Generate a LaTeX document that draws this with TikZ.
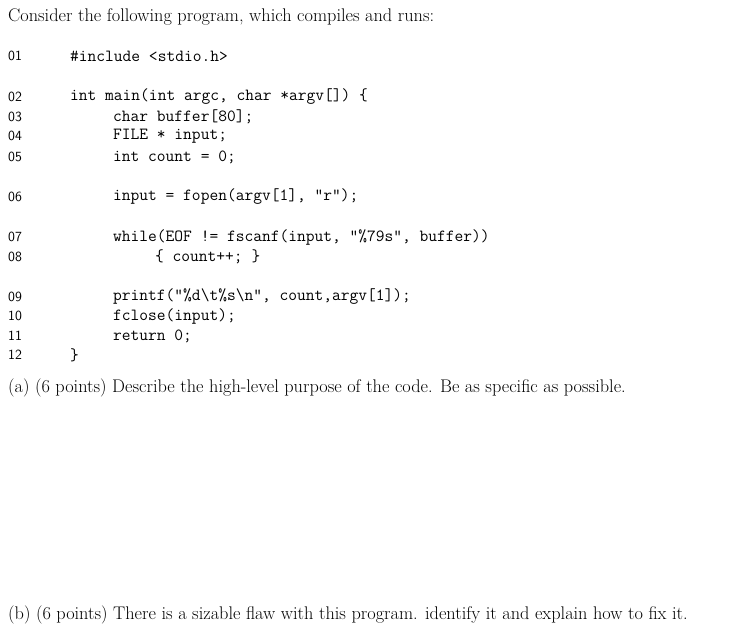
\documentclass[tikz,border=0pt]{standalone}
\begin{document}
\begin{tikzpicture}[x=1pt,y=-1pt,
  txt/.style={anchor=west,inner sep=0pt,font=\fontsize{18.3}{20}\selectfont},
  num/.style={anchor=west,inner sep=0pt,font=\fontsize{14}{16}\sffamily},
  code/.style={anchor=west,inner sep=0pt,font=\fontsize{17}{19}\ttfamily}]
\useasboundingbox[fill=white] (0,0) rectangle (750,643);
\node[txt] (t) at (8,17) {Consider the following program, which compiles and runs:};
\foreach \n/\y in {01/56,02/97,03/117,04/136,05/157,06/197,07/237,08/257,09/297,10/316,11/336,12/355}
  \node[num] (n\n) at (8,\y) {\n};
\node[code] (c1) at (70,56) {\#include <stdio.h>};
\node[code] (c2) at (70,97) {int main(int argc, char *argv[]) \{};
\node[code] (c3) at (113,117) {char buffer[80];};
\node[code] (c4) at (113,136) {FILE * input;};
\node[code] (c5) at (113,157) {int count = 0;};
\node[code] (c6) at (113,197) {input = fopen(argv[1], "r");};
\node[code] (c7) at (113,237) {while(EOF != fscanf(input, "\%79s", buffer))};
\node[code] (c8) at (155,257) {\{ count++; \}};
\node[code] (c9) at (113,297) {printf("\%d\textbackslash t\%s\textbackslash n", count,argv[1]);};
\node[code] (c10) at (113,316) {fclose(input);};
\node[code] (c11) at (113,336) {return 0;};
\node[code] (c12) at (70,355) {\}};
\node[txt] (a) at (8,388) {(a) (6 points) Describe the high-level purpose of the code. Be as specific as possible.};
\node[txt] (b) at (8,615) {(b) (6 points) There is a sizable flaw with this program. identify it and explain how to fix it.};
\end{tikzpicture}
\end{document}
